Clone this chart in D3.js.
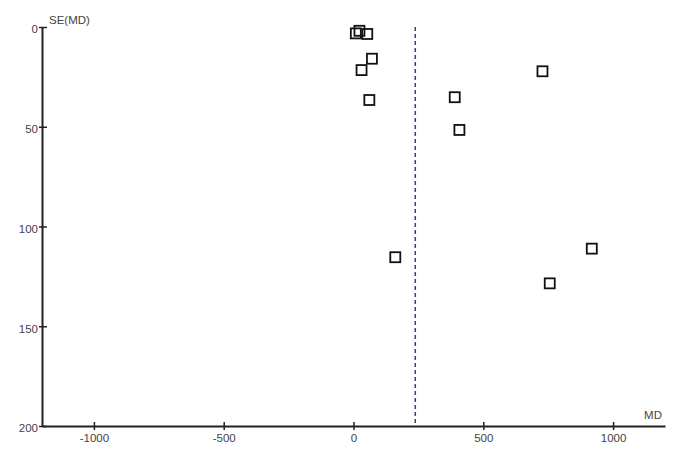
<!DOCTYPE html>
<html>
<head>
<meta charset="utf-8">
<script src="https://cdn.jsdelivr.net/npm/d3@7"></script>
<style>
  body { margin: 0; background: #fff; }
  text { font-family: 'Liberation Sans', Arial, sans-serif; }
</style>
</head>
<body>
<svg id="canvas"></svg>
<script>
var width = 684,
  height = 469,
  margin = {top: 27, right: 19, bottom: 43, left: 42};

// study estimates (mean difference) and their standard errors
var md = [9, 23, 53, 71, 31, 61, 728, 390, 408, 161, 918, 756];
var se = [3.2, 1.9, 3.5, 15.9, 21.6, 36.6, 22.2, 35.2, 51.6, 115.4, 111.1, 128.5];
var pooledMD = 238;
var xTicks = [-1000, -500, 0, 500, 1000];
var yTicks = [0, 50, 100, 150, 200];

function draw() {
  var canvas, container, x, y, xAxis, yAxis, points;

  canvas = d3.select('#canvas')
    .attr('width', width)
    .attr('height', height);

  x = d3.scaleLinear()
    .domain([-1200, 1200])
    .range([margin.left, width - margin.right]);

  y = d3.scaleLinear()
    .domain([0, 200])
    .range([margin.top, height - margin.bottom]);

  container = canvas.append('g');

  // X AXIS
  xAxis = container.append('g')
    .attr('transform', 'translate(0,' + y(200) + ')')
    .call(d3.axisBottom(x).tickValues(xTicks).tickFormat(function(d) { return String(d); }).tickSizeOuter(0));

  xAxis.select('.domain').attr('stroke', '#222').attr('stroke-width', 2);
  xAxis.selectAll('.tick line')
    .attr('y1', -4).attr('y2', 4)
    .attr('stroke', '#222').attr('stroke-width', 1.5);
  xAxis.selectAll('.tick text')
    .attr('y', 8)
    .attr('fill', '#444')
    .style('font-size', '11.5px');

  // Y AXIS
  yAxis = container.append('g')
    .attr('transform', 'translate(' + x(-1200) + ',0)')
    .call(d3.axisLeft(y).tickValues(yTicks).tickSizeOuter(0));

  yAxis.select('.domain').attr('stroke', '#222').attr('stroke-width', 2);
  yAxis.selectAll('.tick line')
    .attr('x1', -3).attr('x2', 5)
    .attr('stroke', '#222').attr('stroke-width', 1.5);
  yAxis.selectAll('.tick text')
    .attr('x', -4)
    .attr('dy', '0.5em')
    .attr('fill', '#444')
    .style('font-size', '11.5px');

  // AXIS TITLES
  container.append('text')
    .attr('x', x(-1200) + 7)
    .attr('y', y(0) - 3)
    .attr('fill', '#444')
    .style('font-size', '11.5px')
    .text('SE(MD)');

  container.append('text')
    .attr('x', x(1200) - 3)
    .attr('y', y(200) - 7)
    .attr('text-anchor', 'end')
    .attr('fill', '#444')
    .style('font-size', '11.5px')
    .text('MD');

  // POOLED ESTIMATE LINE
  container.append('line')
    .attr('x1', x(pooledMD)).attr('x2', x(pooledMD))
    .attr('y1', y(0)).attr('y2', y(200))
    .attr('stroke', '#3a3a8c')
    .attr('stroke-width', 1.5)
    .attr('stroke-dasharray', '4,3');

  // STUDY POINTS
  points = container.selectAll('rect.study')
    .data(md)
    .enter()
    .append('rect')
    .attr('class', 'study')
    .attr('x', function(d) { return x(d) - 5; })
    .attr('y', function(d, i) { return y(se[i]) - 5; })
    .attr('width', 10)
    .attr('height', 10)
    .attr('fill', 'none')
    .attr('stroke', '#111')
    .attr('stroke-width', 1.8);
}

window.onload = draw;
</script>
</body>
</html>
